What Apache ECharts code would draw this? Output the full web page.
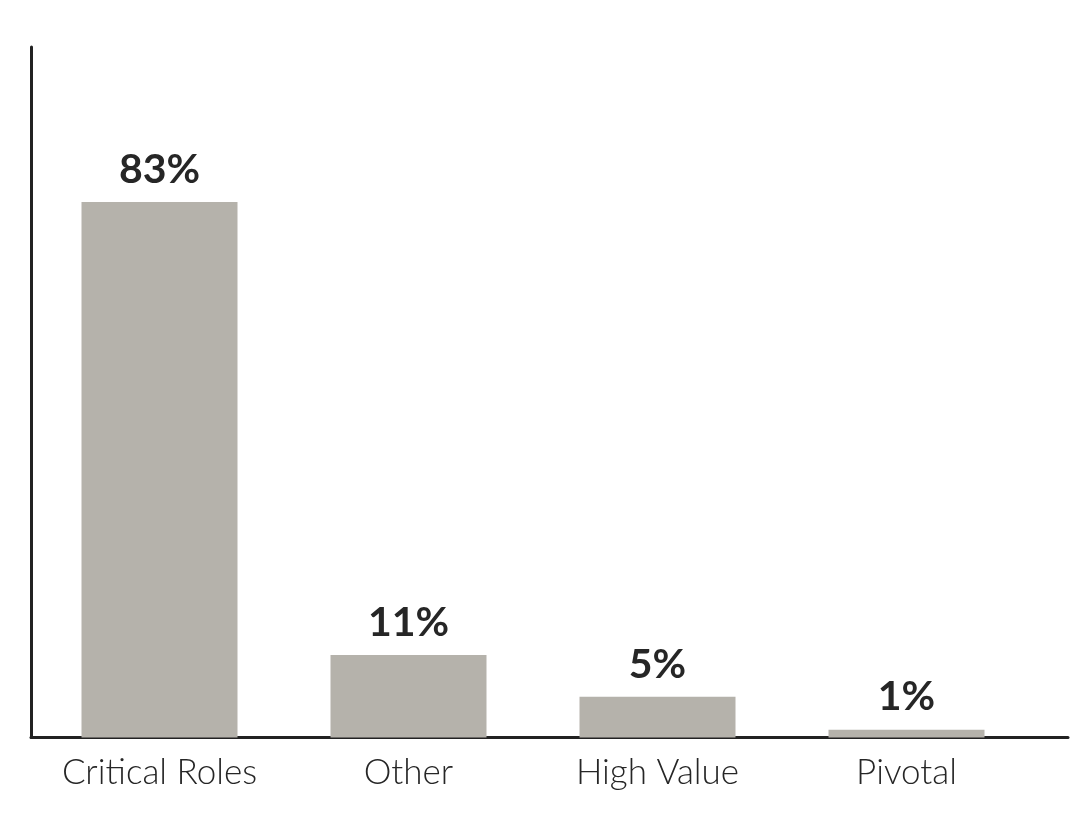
<!DOCTYPE html>
<html>
<head>
<meta charset="utf-8">
<script src="https://cdn.jsdelivr.net/npm/echarts@6/dist/echarts.min.js"></script>
<style>
    html, body { margin: 0; padding: 0; background: #fff; }
    #chart { width: 1092px; height: 816px; }
</style>
</head>
<body>
<div id="chart"></div>
<script>
    // categories along the bottom
    var categories = ['Critical Roles', 'Other', 'High Value', 'Pivotal'];
    // bar heights as drawn in the picture (percent scale)
    var values = [83, 12.8, 6.3, 1.2];
    // printed value labels above each bar
    var valueLabels = ['83%', '11%', '5%', '1%'];

    var axisColor = '#222';
    var barColor = '#b5b2ab';
    var textColor = '#262626';

    var chart = echarts.init(document.getElementById('chart'));

    var option = {
        animation: false,
        backgroundColor: '#fff',
        grid: [
            // frame: only the two axis lines
            {left: 31, right: 24, top: 47, bottom: 78.5},
            // plot: bars and category labels
            {left: 35, width: 996, top: 47, bottom: 78.5}
        ],
        xAxis: [
            {
                type: 'value',
                gridIndex: 0,
                min: 0,
                max: 1,
                axisLine: {show: true, lineStyle: {color: axisColor, width: 3}},
                axisTick: {show: false},
                axisLabel: {show: false},
                splitLine: {show: false}
            },
            {
                type: 'category',
                gridIndex: 1,
                data: categories,
                axisLine: {show: false},
                axisTick: {show: false},
                axisLabel: {
                    interval: 0,
                    margin: 18,
                    color: textColor,
                    fontFamily: 'Lato',
                    fontWeight: 300,
                    fontSize: 35
                }
            }
        ],
        yAxis: [
            {
                type: 'value',
                gridIndex: 0,
                min: 0,
                max: 1,
                axisLine: {show: true, lineStyle: {color: axisColor, width: 3}},
                axisTick: {show: false},
                axisLabel: {show: false},
                splitLine: {show: false}
            },
            {
                type: 'value',
                gridIndex: 1,
                min: 0,
                max: 107,
                show: false
            }
        ],
        series: [
            {
                type: 'bar',
                xAxisIndex: 1,
                yAxisIndex: 1,
                data: values,
                barWidth: 156,
                itemStyle: {color: barColor},
                label: {
                    show: true,
                    position: 'top',
                    distance: 12,
                    color: textColor,
                    fontFamily: 'Lato',
                    fontWeight: 'bold',
                    fontSize: 41,
                    formatter: function (p) {
                        return valueLabels[p.dataIndex];
                    }
                }
            }
        ]
    };

    chart.setOption(option);
</script>
</body>
</html>
